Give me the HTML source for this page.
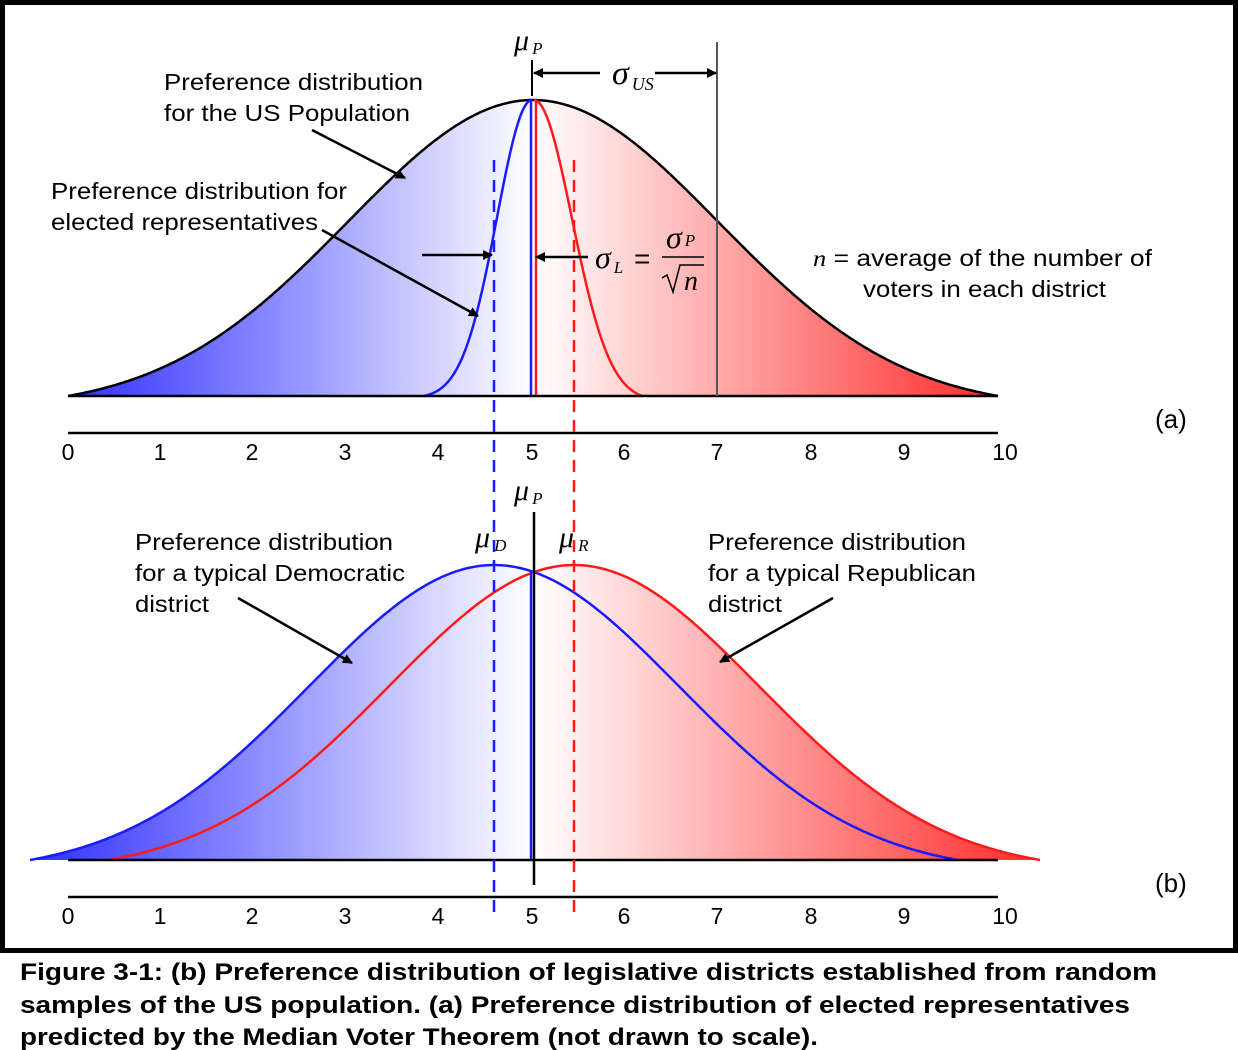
<!DOCTYPE html>
<html><head><meta charset="utf-8"><style>
html,body{margin:0;padding:0;background:#fff;}
svg{display:block;}
text{font-family:"Liberation Sans",sans-serif;}
.s{font-family:"Liberation Serif",serif;font-style:italic;}
</style></head><body>
<svg id="c" width="1238" height="1050" viewBox="0 0 1238 1050" xmlns="http://www.w3.org/2000/svg">
<defs>
<linearGradient id="gb" x1="0" x2="1" y1="0" y2="0"><stop offset="0" stop-color="#2f2fff"/><stop offset="1" stop-color="#ffffff"/></linearGradient>
<linearGradient id="gr" x1="0" x2="1" y1="0" y2="0"><stop offset="0" stop-color="#ffffff"/><stop offset="1" stop-color="#ff2a2a"/></linearGradient>
<marker id="ah" markerWidth="10" markerHeight="10" refX="9" refY="5" orient="auto" markerUnits="userSpaceOnUse"><path d="M0,0 L10,5 L0,10 z" fill="#000"/></marker>
</defs>
<rect x="2.5" y="2.5" width="1233" height="948" fill="none" stroke="#000" stroke-width="5"/>
<g id="fills"></g>
<g id="lines"></g>
<line x1="68" y1="433" x2="998" y2="433" stroke="#000" stroke-width="2.5"/>
<line x1="68" y1="897" x2="998" y2="897" stroke="#000" stroke-width="2.5"/>
<line x1="68" y1="396" x2="998" y2="396" stroke="#000" stroke-width="2.5"/>
<line x1="68" y1="860" x2="998" y2="860" stroke="#000" stroke-width="2.5"/>
<g font-size="23" text-anchor="middle">
<text x="68" y="460">0</text><text x="160" y="460">1</text><text x="252" y="460">2</text><text x="345" y="460">3</text><text x="438" y="460">4</text><text x="532" y="460">5</text><text x="624" y="460">6</text><text x="717" y="460">7</text><text x="811" y="460">8</text><text x="904" y="460">9</text><text x="1005" y="460">10</text>
<text x="68" y="924">0</text><text x="160" y="924">1</text><text x="252" y="924">2</text><text x="345" y="924">3</text><text x="438" y="924">4</text><text x="532" y="924">5</text><text x="624" y="924">6</text><text x="717" y="924">7</text><text x="811" y="924">8</text><text x="904" y="924">9</text><text x="1005" y="924">10</text>
</g>
<g font-size="26"><text x="1155" y="428">(a)</text><text x="1155" y="892">(b)</text></g>
<line x1="494" y1="160" x2="494" y2="920" stroke="#1a1aff" stroke-width="2.5" stroke-dasharray="12,8"/>
<line x1="574" y1="160" x2="574" y2="920" stroke="#ff1a1a" stroke-width="2.5" stroke-dasharray="12,8"/>
<line x1="532" y1="60" x2="532" y2="96" stroke="#000" stroke-width="2"/>
<line x1="717" y1="42" x2="717" y2="396" stroke="#555" stroke-width="2"/>
<line x1="600" y1="73" x2="534" y2="73" stroke="#000" stroke-width="2.5" marker-end="url(#ah)"/>
<line x1="655" y1="73" x2="716" y2="73" stroke="#000" stroke-width="2.5" marker-end="url(#ah)"/>
<text class="s" x="514" y="50" font-size="30">μ<tspan font-size="17" dx="3" dy="4">P</tspan></text>
<text class="s" x="612" y="84" font-size="34">σ<tspan font-size="18" dx="3" dy="6">US</tspan></text>
<line x1="422" y1="255" x2="492" y2="255" stroke="#000" stroke-width="2.5" marker-end="url(#ah)"/>
<line x1="588" y1="257" x2="536" y2="257" stroke="#000" stroke-width="2.5" marker-end="url(#ah)"/>
<text class="s" x="595" y="268" font-size="32">σ<tspan font-size="17" dx="3" dy="5">L</tspan></text>
<text x="634" y="268" font-size="28">=</text>
<text class="s" x="666" y="248" font-size="32">σ<tspan font-size="17" dx="3" dy="-2">P</tspan></text>
<line x1="662" y1="257" x2="704" y2="257" stroke="#000" stroke-width="1.5"/>
<path d="M662,278 L667,275 L673,292 L680,265 L704,265" fill="none" stroke="#000" stroke-width="1.5"/>
<text class="s" x="684" y="290" font-size="28">n</text>
<g font-size="23" lengthAdjust="spacingAndGlyphs">
<text x="164" y="90" textLength="259" lengthAdjust="spacingAndGlyphs">Preference distribution</text>
<text x="164" y="121" textLength="246" lengthAdjust="spacingAndGlyphs">for the US Population</text>
<text x="51" y="199" textLength="296" lengthAdjust="spacingAndGlyphs">Preference distribution for</text>
<text x="51" y="230" textLength="267" lengthAdjust="spacingAndGlyphs">elected representatives</text>
<text x="813" y="266" textLength="339" lengthAdjust="spacingAndGlyphs"><tspan class="s">n</tspan> = average of the number of</text>
<text x="863" y="297" textLength="243" lengthAdjust="spacingAndGlyphs">voters in each district</text>
<text x="135" y="550" textLength="258" lengthAdjust="spacingAndGlyphs">Preference distribution</text>
<text x="135" y="581" textLength="270" lengthAdjust="spacingAndGlyphs">for a typical Democratic</text>
<text x="135" y="612" textLength="74" lengthAdjust="spacingAndGlyphs">district</text>
<text x="708" y="550" textLength="258" lengthAdjust="spacingAndGlyphs">Preference distribution</text>
<text x="708" y="581" textLength="268" lengthAdjust="spacingAndGlyphs">for a typical Republican</text>
<text x="708" y="612" textLength="74" lengthAdjust="spacingAndGlyphs">district</text>
</g>
<line x1="312" y1="130" x2="405" y2="178" stroke="#000" stroke-width="2.5" marker-end="url(#ah)"/>
<line x1="322" y1="230" x2="478" y2="316" stroke="#000" stroke-width="2.5" marker-end="url(#ah)"/>
<line x1="534" y1="512" x2="534" y2="885" stroke="#000" stroke-width="2.5"/>
<text class="s" x="514" y="500" font-size="30">μ<tspan font-size="17" dx="3" dy="4">P</tspan></text>
<text class="s" x="475" y="547" font-size="30">μ<tspan font-size="17" dx="4" dy="4">D</tspan></text>
<text class="s" x="559" y="547" font-size="30">μ<tspan font-size="17" dx="4" dy="4">R</tspan></text>
<line x1="238" y1="598" x2="352" y2="663" stroke="#000" stroke-width="2.5" marker-end="url(#ah)"/>
<line x1="833" y1="598" x2="720" y2="662" stroke="#000" stroke-width="2.5" marker-end="url(#ah)"/>
<g font-size="24.5" font-weight="bold">
<text x="20" y="980" textLength="1137" lengthAdjust="spacingAndGlyphs">Figure 3-1:  (b) Preference distribution of legislative districts established from random</text>
<text x="20" y="1013" textLength="1110" lengthAdjust="spacingAndGlyphs">samples of the US population.  (a) Preference distribution of elected representatives</text>
<text x="20" y="1045" textLength="798" lengthAdjust="spacingAndGlyphs">predicted by the Median Voter Theorem (not drawn to scale).</text>
</g>
</svg>
<script>
var NS="http://www.w3.org/2000/svg";
function mk(m,s,base,h,half){var e0=Math.exp(-half*half/(2*s*s));return function(x){var v=(Math.exp(-(x-m)*(x-m)/(2*s*s))-e0)/(1-e0);if(v<0)v=0;return base-h*v;};}
function pts(x0,x1,f){var a=[];for(var x=x0;x<=x1+0.01;x+=2){a.push(x.toFixed(1)+","+f(x).toFixed(1));}return a;}
function path(d,attrs,parent){var p=document.createElementNS(NS,"path");p.setAttribute("d",d);for(var k in attrs)p.setAttribute(k,attrs[k]);document.getElementById(parent).appendChild(p);}
var B=396,H=296,S=185,M=533;
var fa=mk(M,S,B,H,465);
path("M68,"+B+" L"+pts(68,M,fa).join(" L")+" L"+M+","+B+"Z",{fill:"url(#gb)"},"fills");
path("M"+M+","+B+" L"+pts(M,998,fa).join(" L")+" L998,"+B+"Z",{fill:"url(#gr)"},"fills");
path("M"+pts(68,998,fa).join(" L"),{fill:"none",stroke:"#000","stroke-width":2.5},"lines");
var fb=mk(532,35,B,H,108), fr=mk(534,38,B,H,108);
path("M"+pts(424,532,fb).join(" L"),{fill:"none",stroke:"#1a1aff","stroke-width":2.5},"lines");
path("M"+pts(534,642,fr).join(" L"),{fill:"none",stroke:"#ff1a1a","stroke-width":2.5},"lines");
path("M531,100 L531,396",{stroke:"#1a1aff","stroke-width":2.5},"lines");
path("M536,100 L536,396",{stroke:"#ff1a1a","stroke-width":2.5},"lines");
var B2=860,H2=295;
var gB=mk(494,S,B2,H2,464), gR=mk(574,S,B2,H2,466);
path("M30,"+B2+" L"+pts(30,532,gB).join(" L")+" L532,"+B2+"Z",{fill:"url(#gb)"},"fills");
path("M534,"+B2+" L"+pts(534,1040,gR).join(" L")+" L1040,"+B2+"Z",{fill:"url(#gr)"},"fills");
path("M"+pts(30,958,gB).join(" L"),{fill:"none",stroke:"#1a1aff","stroke-width":2.5},"lines");
path("M"+pts(108,1040,gR).join(" L"),{fill:"none",stroke:"#ff1a1a","stroke-width":2.5},"lines");
path("M531,570 L531,860",{stroke:"#1a1aff","stroke-width":2.5},"lines");
</script>
</body></html>
